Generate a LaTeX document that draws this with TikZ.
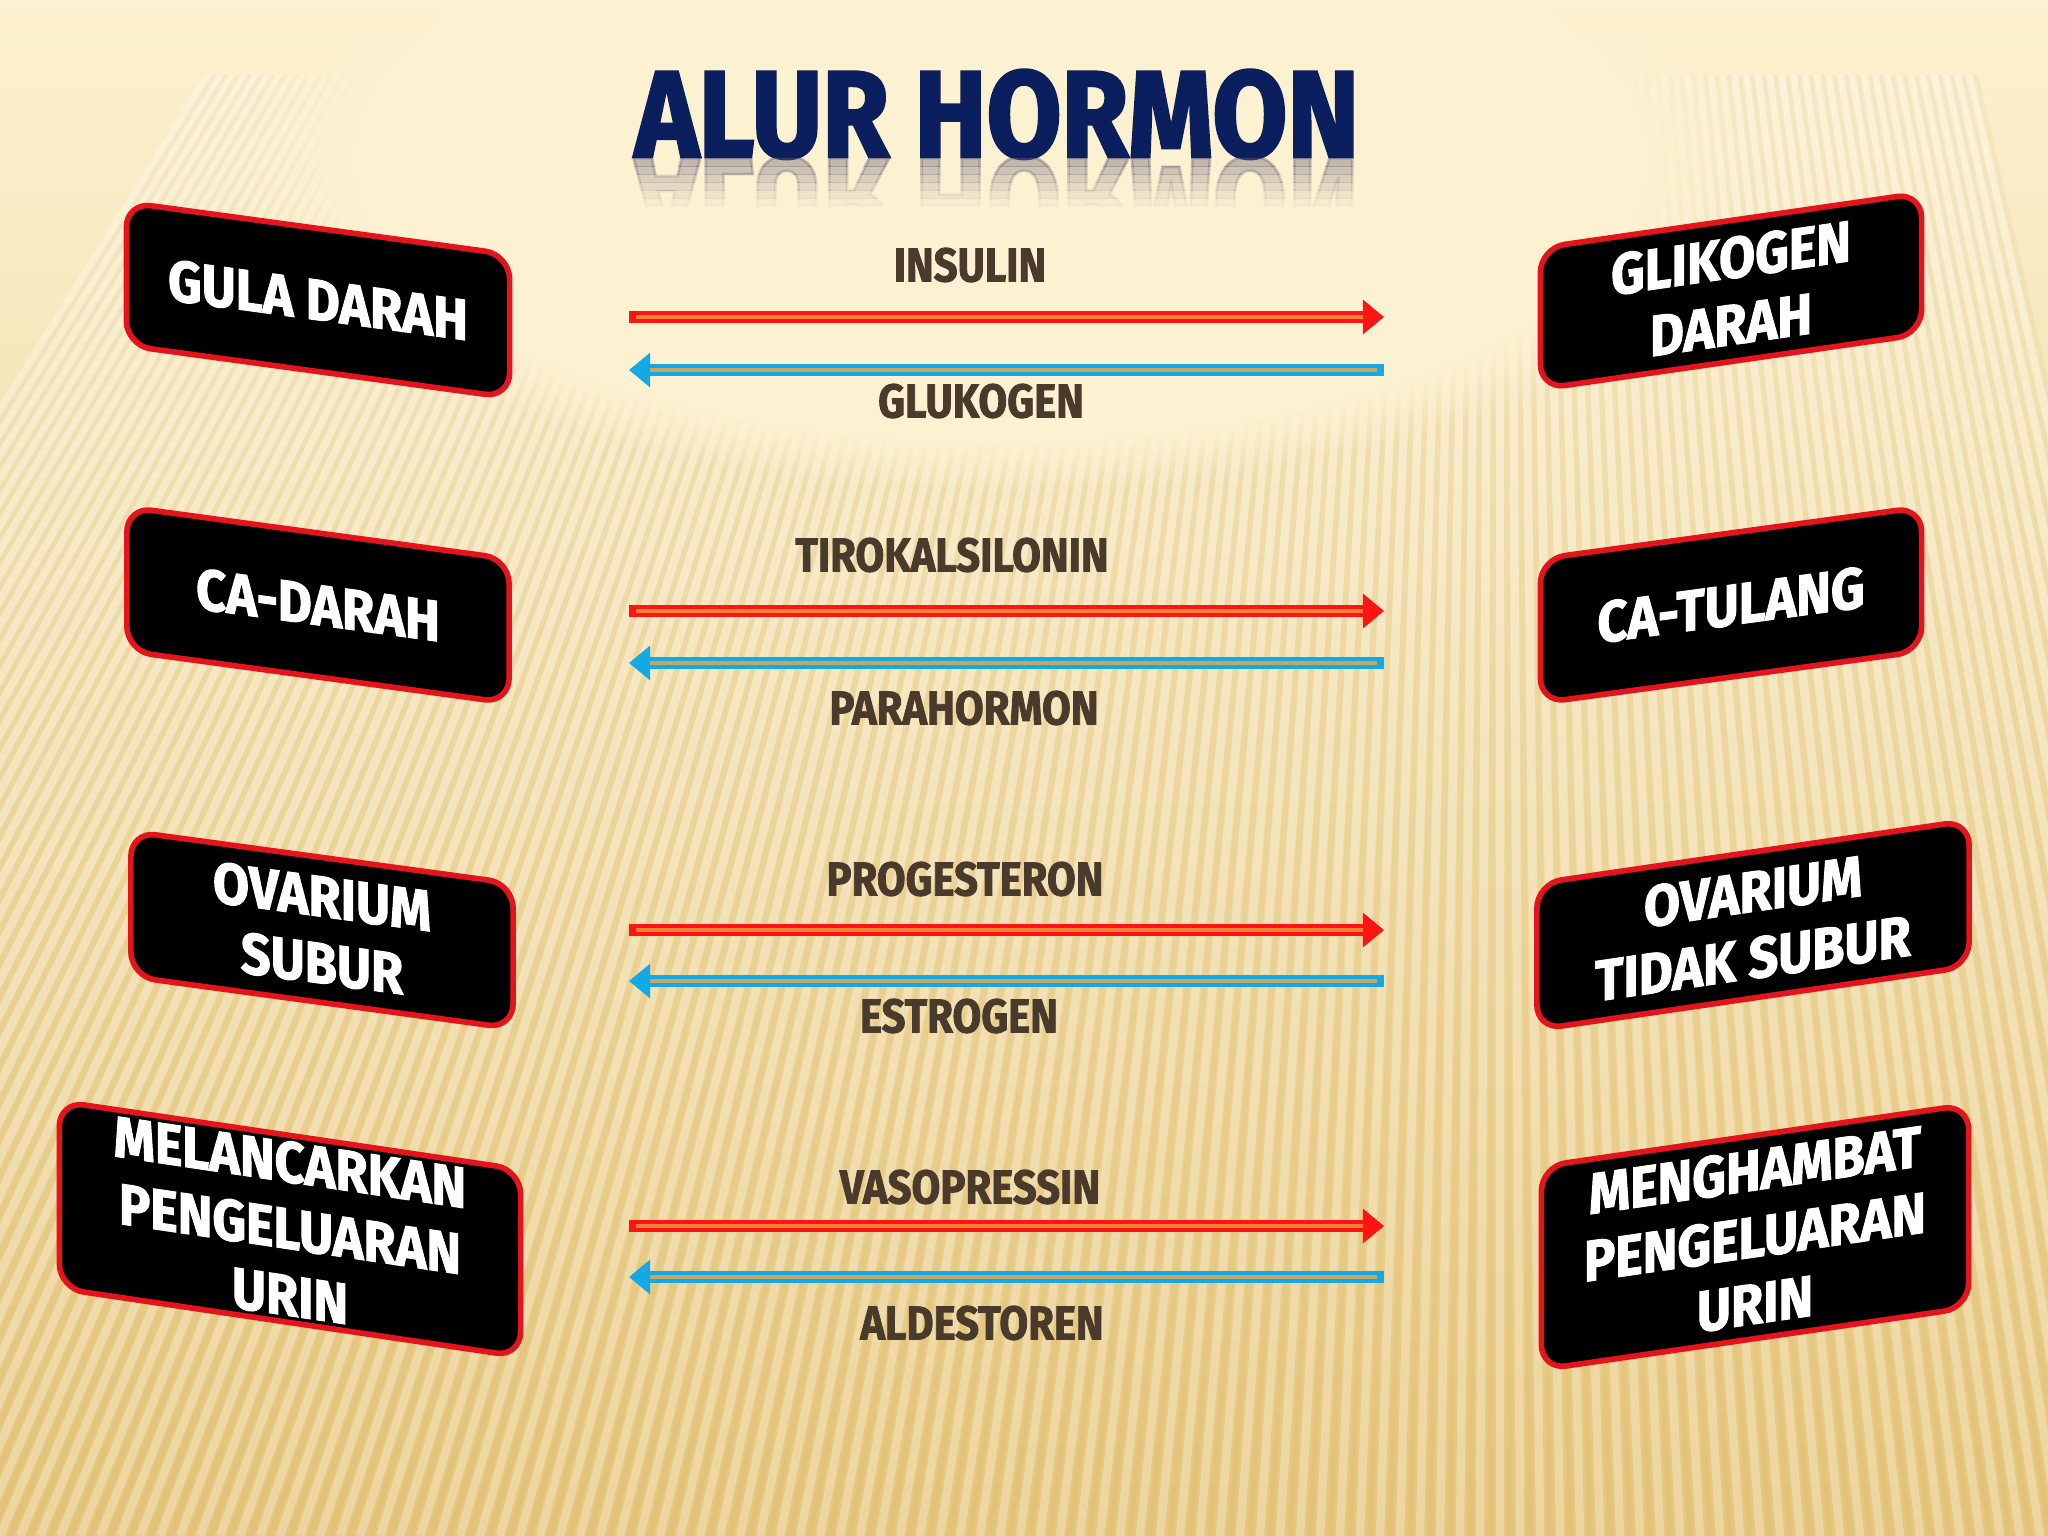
\documentclass[tikz,border=0pt]{standalone}
\usepackage{fontspec}
\usetikzlibrary{arrows.meta,fadings}
\newfontfamily\heavylbl{Fira Sans}[FakeStretch=0.88, BoldFeatures={FakeBold=1.6}]
\newfontfamily\heavybox{Fira Sans}[FakeStretch=0.9, BoldFeatures={FakeBold=1.8}]
\newfontfamily\heavyttl{Fira Sans}[FakeStretch=0.88, BoldFeatures={FakeBold=2.2}]
\definecolor{bgtop}{HTML}{FCF1D0}
\definecolor{bgmid}{HTML}{F5E2AC}
\definecolor{bgbot}{HTML}{E6C67C}
\definecolor{navy}{HTML}{0B1F5E}
\definecolor{reflcol}{HTML}{6E6478}
\definecolor{lblbrown}{HTML}{4A3A2B}
\definecolor{arrred}{HTML}{FF1414}
\definecolor{arrredin}{HTML}{F4813A}
\definecolor{arrblue}{HTML}{12A9E6}
\definecolor{arrbluein}{HTML}{C4A763}
\definecolor{boxred}{HTML}{E3141C}
\definecolor{stripedark}{HTML}{B89A50}
\begin{document}
\begin{tikzpicture}[x=0.01cm,y=0.01cm,
  hbox/.style={draw=boxred, line width=1.6pt, fill=black, rounded corners=7pt,
    text=white, font=\heavybox\bfseries\fontsize{16.5}{19}\selectfont, align=center,
    inner sep=0pt, transform shape},
  lbl/.style={text=lblbrown, font=\heavylbl\bfseries\fontsize{13.5}{15}\selectfont, inner sep=0pt},
  redarrow/.style={draw=arrred, line width=3.6pt, -{Triangle[length=6pt,width=9.5pt]}},
  bluearrow/.style={draw=arrblue, line width=3.6pt, -{Triangle[length=6pt,width=9.5pt]}},
  redcore/.style={draw=arrredin, line width=0.9pt},
  bluecore/.style={draw=arrbluein, line width=0.9pt},
  ttl/.style={font=\heavyttl\bfseries\fontsize{35}{35}\selectfont, inner sep=0pt, anchor=base}
]
\useasboundingbox (0,-1536) rectangle (2048,0);
% background
\shade[top color=bgtop, middle color=bgmid, bottom color=bgbot] (0,-1536) rectangle (2048,0);
\begin{scope}
  \clip (0,-1536) rectangle (2048,-75);
  \foreach \k in {-110,...,40} {
    \draw[white, opacity=0.28, line width=2.4pt] (1500,2000) -- (1500+\k*20,-1536);
    \draw[stripedark, opacity=0.09, line width=1.6pt] (1500,2000) -- (1510+\k*20,-1536);
  }
\end{scope}
\fill[bgtop, path fading=circle with fuzzy edge 15 percent] (1000,-160) ellipse (760 and 330);

% title and its fading reflection
\node[ttl, text=navy] (title) at (997,-157) {ALUR HORMON};
\foreach \j/\op in {0/0.40,1/0.32,2/0.24,3/0.16,4/0.09,5/0.04} {
  \begin{scope}
    \clip (600,-158-\j*8) rectangle (1400,-166-\j*8);
    \begin{scope}[shift={(997,-158)}, yscale=-1]
      \node[ttl, text=reflcol, text opacity=\op, transform shape] (titleref\j) at (0,0) {ALUR HORMON};
    \end{scope}
  \end{scope}
}

% left boxes
\begin{scope}[shift={(318,-300)}]
  \node[hbox, yslant=-0.136, minimum width=3.83cm, minimum height=1.43cm] (gula) at (0,0) {GULA DARAH};
\end{scope}
\begin{scope}[shift={(318,-605)}]
  \node[hbox, yslant=-0.136, minimum width=3.82cm, minimum height=1.44cm] (cadarah) at (0,0) {CA-DARAH};
\end{scope}
\begin{scope}[shift={(322,-930)}]
  \node[hbox, yslant=-0.136, minimum width=3.82cm, minimum height=1.45cm] (ovsubur) at (0,0) {OVARIUM\\SUBUR};
\end{scope}
\begin{scope}[shift={(290,-1229)}]
  \node[hbox, yslant=-0.148, minimum width=4.61cm, minimum height=1.87cm] (melan) at (0,0) {MELANCARKAN\\PENGELUARAN\\URIN};
\end{scope}

% right boxes
\begin{scope}[shift={(1731,-291)}]
  \node[hbox, yslant=0.144, minimum width=3.81cm, minimum height=1.41cm] (glikogen) at (0,0) {GLIKOGEN\\DARAH};
\end{scope}
\begin{scope}[shift={(1731,-605)}]
  \node[hbox, yslant=0.136, minimum width=3.81cm, minimum height=1.44cm] (catulang) at (0,0) {CA-TULANG};
\end{scope}
\begin{scope}[shift={(1753,-925)}]
  \node[hbox, yslant=0.146, minimum width=4.32cm, minimum height=1.46cm] (ovtidak) at (0,0) {OVARIUM\\TIDAK SUBUR};
\end{scope}
\begin{scope}[shift={(1755,-1237)}]
  \node[hbox, yslant=0.145, minimum width=4.27cm, minimum height=2.03cm] (menghambat) at (0,0) {MENGHAMBAT\\PENGELUARAN\\URIN};
\end{scope}

% arrow end points
\coordinate (r1s) at (629,-317);  \coordinate (r1e) at (1384,-317);
\coordinate (b1s) at (1384,-370); \coordinate (b1e) at (629,-370);
\coordinate (r2s) at (629,-611);  \coordinate (r2e) at (1384,-611);
\coordinate (b2s) at (1384,-663); \coordinate (b2e) at (629,-663);
\coordinate (r3s) at (629,-930);  \coordinate (r3e) at (1384,-930);
\coordinate (b3s) at (1384,-981); \coordinate (b3e) at (629,-981);
\coordinate (r4s) at (629,-1226); \coordinate (r4e) at (1384,-1226);
\coordinate (b4s) at (1384,-1277);\coordinate (b4e) at (629,-1277);

\foreach \i in {1,2,3,4} {
  \draw[redarrow] (r\i s) -- (r\i e);
  \draw[redcore] ([xshift=2pt]r\i s) -- ([xshift=-6pt]r\i e);
  \draw[bluearrow] (b\i s) -- (b\i e);
  \draw[bluecore] ([xshift=-2pt]b\i s) -- ([xshift=6pt]b\i e);
}

% labels
\node[lbl] (insulin) at (970,-265) {INSULIN};
\node[lbl] (glukogen) at (981,-401) {GLUKOGEN};
\node[lbl] (tiro) at (952,-555) {TIROKALSILONIN};
\node[lbl] (para) at (964,-708) {PARAHORMON};
\node[lbl] (proges) at (965,-879) {PROGESTERON};
\node[lbl] (estro) at (959,-1016) {ESTROGEN};
\node[lbl] (vaso) at (970,-1187) {VASOPRESSIN};
\node[lbl] (aldes) at (982,-1323) {ALDESTOREN};
\end{tikzpicture}
\end{document}
